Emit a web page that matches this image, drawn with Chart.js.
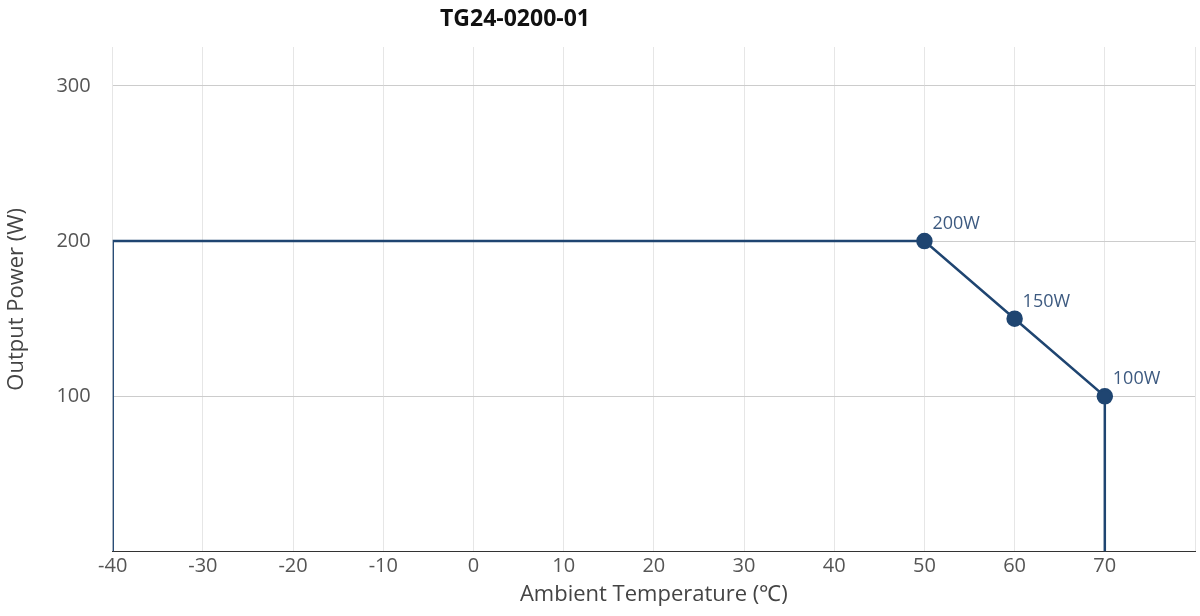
<!DOCTYPE html>
<html>
<head>
<meta charset="utf-8">
<script src="https://cdn.jsdelivr.net/npm/chart.js@4"></script>
<style>
  body { margin: 0; background: #fff; }
  #wrap { width: 1200px; height: 616px; }
</style>
</head>
<body>
<div id="wrap"><canvas id="derating"></canvas></div>
<script>
// derating curve
const temps = [-40, -40, 50, 60, 70, 70];
const power = [0, 200, 200, 150, 100, 0];
const pointLabels = ['', '', '200W', '150W', '100W', ''];
const xTicks = [-40, -30, -20, -10, 0, 10, 20, 30, 40, 50, 60, 70, 80];
const yTicks = [100, 200, 300];

const lineColor = '#1f4571';

const extras = {
  id: 'extras',
  afterDatasetsDraw(chart) {
    const ctx = chart.ctx;
    const meta = chart.getDatasetMeta(0);
    ctx.save();
    ctx.font = '18px "Open Sans", sans-serif';
    ctx.fillStyle = '#3d5a80';
    ctx.textAlign = 'left';
    ctx.textBaseline = 'bottom';
    meta.data.forEach((pt, i) => {
      if (pointLabels[i]) ctx.fillText(pointLabels[i], pt.x + 8, pt.y - 8);
    });
    ctx.font = 'bold 23px "Open Sans", sans-serif';
    ctx.fillStyle = '#111';
    ctx.textAlign = 'center';
    ctx.textBaseline = 'middle';
    ctx.fillText('TG24-0200-01', 515, 19);
    ctx.restore();
  }
};

new Chart(document.getElementById('derating'), {
  type: 'line',
  data: {
    datasets: [{
      data: temps.map((t, i) => ({ x: t, y: power[i] })),
      borderColor: lineColor,
      backgroundColor: lineColor,
      borderWidth: 2.5,
      pointRadius: pointLabels.map(l => l ? 7 : 0),
      tension: 0
    }]
  },
  options: {
    responsive: true,
    maintainAspectRatio: false,
    animation: false,
    layout: { padding: { top: 47, right: 5, left: 0, bottom: 4 } },
    plugins: { legend: { display: false }, tooltip: { enabled: false } },
    scales: {
      x: {
        type: 'linear',
        min: -40,
        max: 80,
        afterBuildTicks: s => { s.ticks = xTicks.map(v => ({ value: v })); },
        ticks: {
          color: '#555',
          font: { size: 20, family: '"Open Sans", sans-serif' },
          callback: v => v === 80 ? '' : v
        },
        grid: { color: '#e6e6e6', drawTicks: false },
        border: { color: '#333', width: 1 },
        title: {
          display: true,
          text: 'Ambient Temperature (℃)',
          color: '#444',
          font: { size: 22, family: '"Open Sans", sans-serif' },
          padding: { top: 0 }
        }
      },
      y: {
        min: 0,
        max: 325,
        afterBuildTicks: s => { s.ticks = yTicks.map(v => ({ value: v })); },
        ticks: {
          color: '#555',
          font: { size: 20, family: '"Open Sans", sans-serif' },
          padding: 22
        },
        grid: { color: '#cccccc', drawTicks: false },
        border: { display: false },
        title: {
          display: true,
          text: 'Output Power (W)',
          color: '#444',
          font: { size: 22, family: '"Open Sans", sans-serif' },
          padding: { bottom: 4 }
        }
      }
    }
  },
  plugins: [extras]
});
</script>
</body>
</html>
